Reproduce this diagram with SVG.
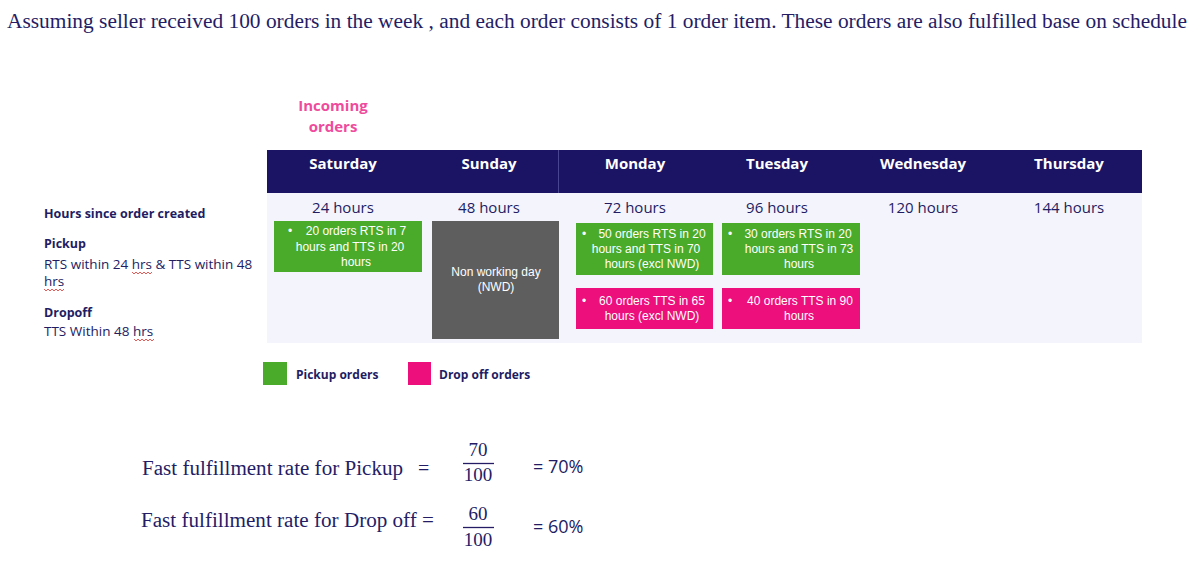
<svg xmlns="http://www.w3.org/2000/svg" width="1198" height="566" viewBox="0 0 1198 566">
<style>
.serif{font-family:"Liberation Serif","DejaVu Serif",serif;fill:#241d66}
.nav{font-family:"Open Sans","Liberation Sans",sans-serif;fill:#221c63}
.b{font-weight:bold}
.day{font-family:"Open Sans","Liberation Sans",sans-serif;font-weight:bold;font-size:15px;fill:#ffffff;text-anchor:middle}
.hrs{font-family:"Open Sans","Liberation Sans",sans-serif;font-size:15px;fill:#221c63;text-anchor:middle}
.bt{font-family:"Liberation Sans",Arial,sans-serif;font-size:12px;fill:#ffffff;text-anchor:middle}
.green{fill:#4aaa2a}
.pink{fill:#ec0f7c}
.sq{fill:none;stroke:#e0312c;stroke-width:0.8}
</style>
<rect width="1198" height="566" fill="#ffffff"/>
<text class="serif" x="7" y="28" font-size="20" textLength="1180" lengthAdjust="spacingAndGlyphs">Assuming seller received 100 orders in the week , and each order consists of 1 order item. These orders are also fulfilled base on schedule</text>

<g id="incoming">
<text x="333" y="111" font-family="Open Sans, Liberation Sans, sans-serif" font-weight="bold" font-size="15" fill="#ef4b9c" text-anchor="middle">Incoming</text>
<text x="333" y="132" font-family="Open Sans, Liberation Sans, sans-serif" font-weight="bold" font-size="15" fill="#ef4b9c" text-anchor="middle">orders</text>
</g>

<g id="table">
<rect x="267" y="193" width="875" height="150" fill="#f4f4fc"/>
<rect x="267" y="150" width="875" height="43" fill="#1b1464"/>
<line x1="558.5" y1="150" x2="558.5" y2="193" stroke="#4a4590" stroke-width="1"/>
<text class="day" x="343" y="169">Saturday</text>
<text class="day" x="489" y="169">Sunday</text>
<text class="day" x="635" y="169">Monday</text>
<text class="day" x="777" y="169">Tuesday</text>
<text class="day" x="923" y="169">Wednesday</text>
<text class="day" x="1069" y="169">Thursday</text>
<text class="hrs" x="343" y="213">24 hours</text>
<text class="hrs" x="489" y="213">48 hours</text>
<text class="hrs" x="635" y="213">72 hours</text>
<text class="hrs" x="777" y="213">96 hours</text>
<text class="hrs" x="923" y="213">120 hours</text>
<text class="hrs" x="1069" y="213">144 hours</text>
</g>

<g id="left-labels">
<text class="nav b" x="44" y="218" font-size="12.5">Hours since order created</text>
<text class="nav b" x="44" y="248" font-size="12.5">Pickup</text>
<text class="nav" x="44" y="269" font-size="13.5">RTS within 24 hrs &amp; TTS within 48</text>
<text class="nav" x="44" y="286" font-size="13.5">hrs</text>
<text class="nav b" x="44" y="317" font-size="12.5">Dropoff</text>
<text class="nav" x="44" y="336" font-size="13.5">TTS Within 48 hrs</text>
<path class="sq" d="M132 272 l2 2 l2 -2 l2 2 l2 -2 l2 2 l2 -2 l2 2 l2 -2 l2 2 l2 -2"/>
<path class="sq" d="M44 289 l2 2 l2 -2 l2 2 l2 -2 l2 2 l2 -2 l2 2 l2 -2 l2 2 l2 -2"/>
<path class="sq" d="M134 339 l2 2 l2 -2 l2 2 l2 -2 l2 2 l2 -2 l2 2 l2 -2 l2 2 l2 -2"/>
</g>

<g id="sat-pickup">
<rect class="green" x="274" y="221" width="148" height="51"/>
<text class="bt" x="290" y="235">•</text>
<text class="bt" x="356" y="235">20 orders RTS in 7</text>
<text class="bt" x="350" y="251">hours and TTS in 20</text>
<text class="bt" x="356" y="266">hours</text>
</g>

<g id="sun-nwd">
<rect x="432" y="221" width="127" height="118" fill="#5e5e5e"/>
<text class="bt" x="496" y="276">Non working day</text>
<text class="bt" x="496" y="291">(NWD)</text>
</g>

<g id="mon-pickup">
<rect class="green" x="576" y="223" width="137" height="52"/>
<text class="bt" x="584" y="238">•</text>
<text class="bt" x="652" y="238">50 orders RTS in 20</text>
<text class="bt" x="646" y="253">hours and TTS in 70</text>
<text class="bt" x="652" y="268">hours (excl NWD)</text>
</g>

<g id="mon-dropoff">
<rect class="pink" x="576" y="288" width="137" height="41"/>
<text class="bt" x="584" y="305">•</text>
<text class="bt" x="652" y="305">60 orders TTS in 65</text>
<text class="bt" x="652" y="320">hours (excl NWD)</text>
</g>

<g id="tue-pickup">
<rect class="green" x="722" y="223" width="138" height="52"/>
<text class="bt" x="730" y="238">•</text>
<text class="bt" x="798" y="238">30 orders RTS in 20</text>
<text class="bt" x="799" y="253">hours and TTS in 73</text>
<text class="bt" x="799" y="268">hours</text>
</g>

<g id="tue-dropoff">
<rect class="pink" x="722" y="288" width="138" height="41"/>
<text class="bt" x="730" y="305">•</text>
<text class="bt" x="800" y="305">40 orders TTS in 90</text>
<text class="bt" x="799" y="320">hours</text>
</g>

<g id="legend">
<rect class="green" x="263" y="362" width="24" height="23"/>
<text class="nav b" x="296" y="379" font-size="12">Pickup orders</text>
<rect class="pink" x="408" y="362" width="23" height="23"/>
<text class="nav b" x="439" y="379" font-size="12">Drop off orders</text>
</g>

<g id="formula-pickup">
<text class="serif" x="142" y="475" font-size="20" textLength="261" lengthAdjust="spacingAndGlyphs">Fast fulfillment rate for Pickup</text>
<text class="serif" x="418" y="475" font-size="20">=</text>
<text class="serif" x="478" y="456" font-size="19" text-anchor="middle">70</text>
<line x1="463" y1="463.5" x2="494" y2="463.5" stroke="#241d66" stroke-width="1.3"/>
<text class="serif" x="478" y="481" font-size="19" text-anchor="middle">100</text>
<text class="nav" x="533" y="473" font-size="18">= 70%</text>
</g>

<g id="formula-dropoff">
<text class="serif" x="141" y="527" font-size="20" textLength="293" lengthAdjust="spacingAndGlyphs">Fast fulfillment rate for Drop off =</text>
<text class="serif" x="478" y="520" font-size="19" text-anchor="middle">60</text>
<line x1="463" y1="527.5" x2="494" y2="527.5" stroke="#241d66" stroke-width="1.3"/>
<text class="serif" x="478" y="546" font-size="19" text-anchor="middle">100</text>
<text class="nav" x="533" y="533" font-size="18">= 60%</text>
</g>
</svg>
